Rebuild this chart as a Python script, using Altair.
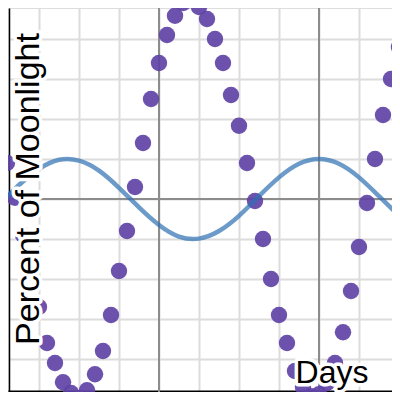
import altair as alt
import pandas as pd

# ---- data ----
day_x = [-3.8, -3.6, -3.4, -3.2, -3.0, -2.8, -2.6, -2.4, -2.2, -2.0,
         -1.8, -1.6, -1.4, -1.2, -1.0, -0.8, -0.6, -0.4, -0.2, 0.0,
         0.2, 0.4, 0.6, 0.8, 1.0, 1.2, 1.4, 1.6, 1.8, 2.0,
         2.2, 2.4, 2.6, 2.8, 3.0, 3.2, 3.4, 3.6, 3.8, 4.0,
         4.2, 4.4, 4.6, 4.8, 5.0, 5.2, 5.4, 5.6, 5.8, 6.0]
moon_y = [0.9, 0.03, -0.9, -1.78, -2.7, -3.6, -4.1, -4.58, -4.85, -4.98,
          -4.78, -4.38, -3.8, -2.9, -1.8, -0.8, 0.3, 1.4, 2.5, 3.4,
          4.1, 4.58, 4.9, 4.98, 4.8, 4.5, 4.0, 3.4, 2.6, 1.83,
          0.9, -0.05, -1.0, -2.0, -2.9, -3.6, -4.3, -4.7, -4.93, -4.88,
          -4.6, -4.1, -3.33, -2.3, -1.2, -0.1, 1.0, 2.1, 3.0, 3.8]

curve_x = [-4.0, -3.5, -3.0, -2.5, -2.0, -1.5, -1.0, -0.5, 0.0, 0.5,
           1.0, 1.5, 2.0, 2.5, 3.0, 3.5, 4.0, 4.5, 5.0, 5.5, 6.0]
curve_y = [-0.15, 0.35, 0.75, 0.98, 0.96, 0.71, 0.28, -0.21, -0.65, -0.94,
           -0.99, -0.80, -0.42, 0.07, 0.54, 0.88, 1.0, 0.88, 0.54, 0.07, -0.42]

x_grid = [-3, -2, -1, 0, 1, 2, 3, 4, 5]
y_grid = [-4, -3, -2, -1, 0, 1, 2, 3, 4]
dark_x_lines = [0, 4]
dark_y_lines = [0]

y_title = "Percent of Moonlight"
x_title = "Days"

# ---- tables ----
pts = pd.DataFrame({"x": day_x, "y": moon_y})
crv = pd.DataFrame({"x": curve_x, "y": curve_y})
vl = pd.DataFrame({"x": dark_x_lines})
hl = pd.DataFrame({"y": dark_y_lines})

xs = alt.Scale(domain=[-3.775, 5.825], nice=False, zero=False)
ys = alt.Scale(domain=[-4.825, 4.775], nice=False, zero=False)

xaxis = alt.Axis(values=x_grid, grid=True, gridColor="#dcdcdc", gridWidth=2,
                 labels=False, ticks=False, title=None, domain=True,
                 domainColor="black", domainWidth=2, offset=-1)
yaxis = alt.Axis(values=y_grid, grid=True, gridColor="#dcdcdc", gridWidth=2,
                 labels=False, ticks=False, title=None, domain=True,
                 domainColor="black", domainWidth=1.5, offset=-1)

base_pts = alt.Chart(pts).mark_circle(size=270, color="#6042a6", opacity=0.92,
                                      clip=True).encode(
    x=alt.X("x:Q", scale=xs, axis=xaxis),
    y=alt.Y("y:Q", scale=ys, axis=yaxis),
)

vrules = alt.Chart(vl).mark_rule(color="#8c8c8c", strokeWidth=2).encode(
    x=alt.X("x:Q", scale=xs, axis=xaxis)
)
hrules = alt.Chart(hl).mark_rule(color="#8c8c8c", strokeWidth=2).encode(
    y=alt.Y("y:Q", scale=ys, axis=yaxis)
)

line = alt.Chart(crv).mark_line(color="#2d70b3", opacity=0.7, strokeWidth=4.5,
                                interpolate="natural", clip=True).encode(
    x=alt.X("x:Q", scale=xs, axis=xaxis),
    y=alt.Y("y:Q", scale=ys, axis=yaxis),
)

title_df = pd.DataFrame({"t": [y_title]})
xt_df = pd.DataFrame({"t": [x_title]})

def label(df, size, xpos, ypos, angle, halo):
    kw = dict(font="Liberation Sans", fontSize=size, align="center",
              baseline="alphabetic", color="black", angle=angle)
    if halo:
        kw.update(stroke="white", strokeWidth=7, strokeJoin="round", color="white")
    return alt.Chart(df).mark_text(**kw).encode(
        text="t:N", x=alt.value(xpos), y=alt.value(ypos))

ylab_h = label(title_df, 34, 31, 181, 270, True)
ylab = label(title_df, 34, 31, 181, 270, False)
xlab_h = label(xt_df, 32, 324, 375, 0, True)
xlab = label(xt_df, 32, 324, 375, 0, False)

chart = alt.layer(vrules, hrules, base_pts, line, ylab_h, ylab, xlab_h, xlab).properties(
    width=384, height=384,
    autosize=alt.AutoSizeParams(type="none"),
    padding=0,
).configure_view(stroke=None).configure(background="white")

chart.save("out.html", embed_options={"renderer": "svg", "actions": False})
